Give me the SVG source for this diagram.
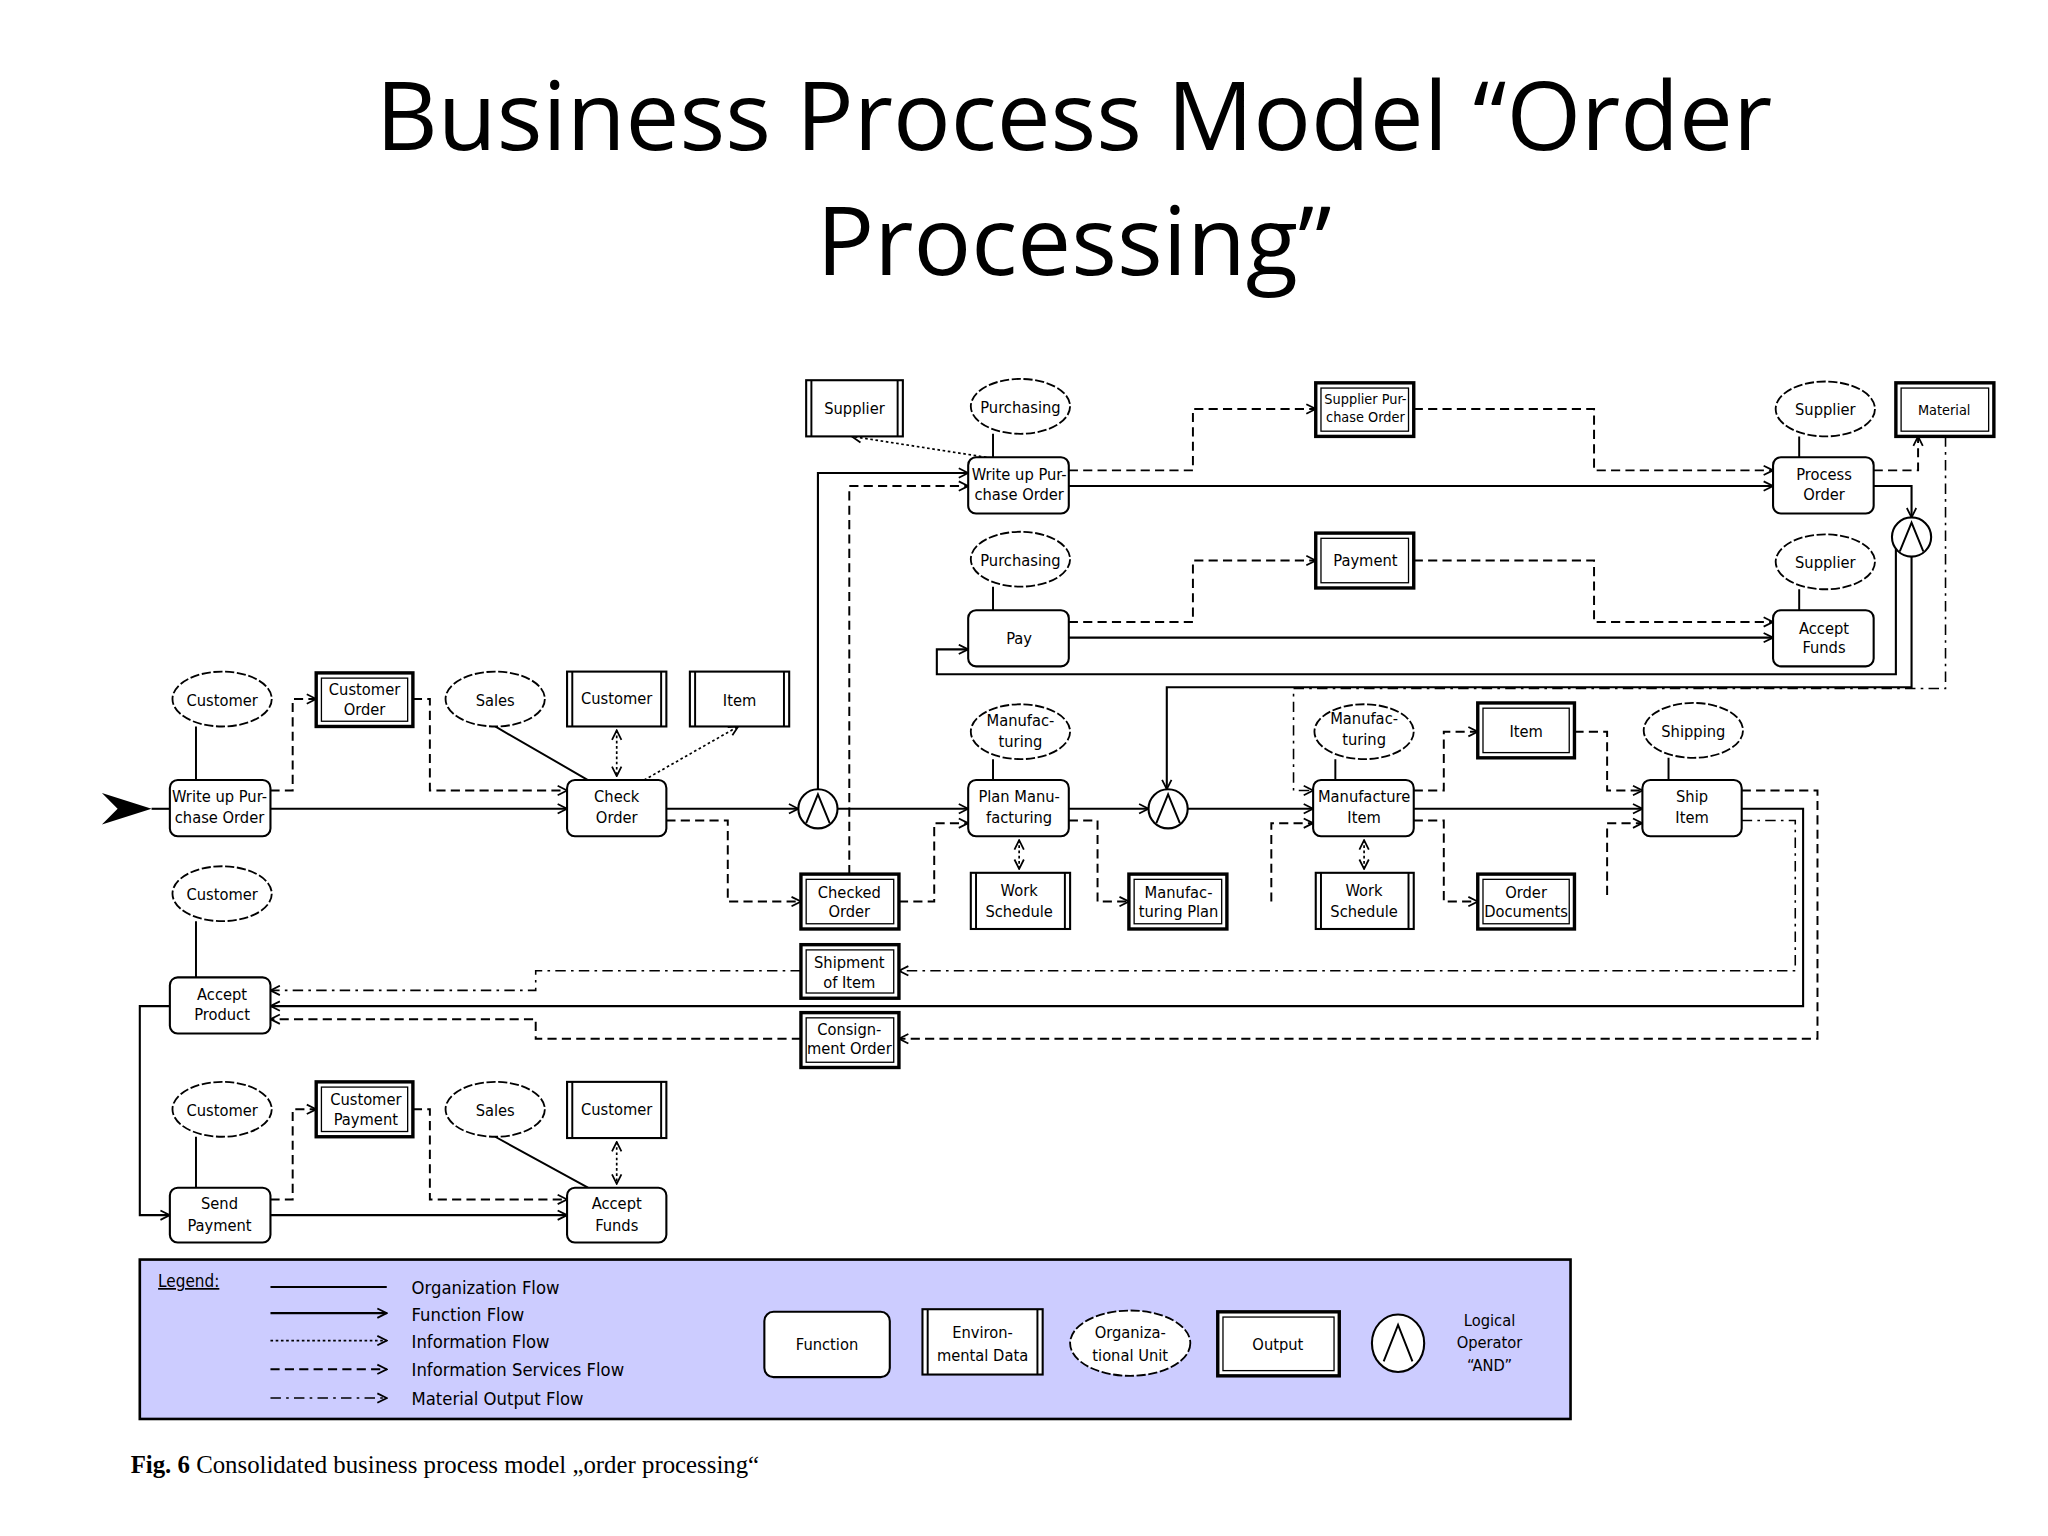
<svg xmlns="http://www.w3.org/2000/svg" width="2048" height="1536" viewBox="0 0 2048 1536">
<style>
.t{font-family:"DejaVu Sans Condensed","Liberation Sans Narrow","Liberation Sans",sans-serif;font-size:12.5px;text-anchor:middle;fill:#000}
.fn{fill:#fff;stroke:#000;stroke-width:1.6}
.ou{fill:#fff;stroke:#000;stroke-width:1.4;stroke-dasharray:7 2}
.ev{fill:#fff;stroke:#000;stroke-width:1.6}
.op{fill:#fff;stroke:#000;stroke-width:2.6}
.oi{fill:none;stroke:#000;stroke-width:1}
.l{fill:none;stroke:#000;stroke-width:1.5}
.s{fill:none;stroke:#000;stroke-width:1.6}
.fa{fill:none;stroke:#000;stroke-width:1.6;marker-end:url(#a)}
.da{fill:none;stroke:#000;stroke-width:1.5;stroke-dasharray:7 4;marker-end:url(#a)}
.dd{fill:none;stroke:#000;stroke-width:1.2;stroke-dasharray:8 4 2 4;marker-end:url(#a)}
.do{fill:none;stroke:#000;stroke-width:1.3;stroke-dasharray:2 2;marker-end:url(#a)}
.db{fill:none;stroke:#000;stroke-width:1.3;stroke-dasharray:2 2;marker-end:url(#a);marker-start:url(#b)}
</style>
<defs>
<marker id="a" viewBox="0 0 10 10" refX="9" refY="5" markerWidth="9" markerHeight="9" markerUnits="userSpaceOnUse" orient="auto"><path d="M1,1 L9,5 L1,9" fill="none" stroke="#000" stroke-width="1.5"/></marker>
<marker id="b" viewBox="0 0 10 10" refX="1" refY="5" markerWidth="9" markerHeight="9" markerUnits="userSpaceOnUse" orient="auto"><path d="M9,1 L1,5 L9,9" fill="none" stroke="#000" stroke-width="1.5"/></marker>
</defs>
<rect width="2048" height="1536" fill="#fff"/>
<g id="title" font-family="'Open Sans','DejaVu Sans',sans-serif" font-size="96" text-anchor="middle" fill="#000">
<text x="1074" y="150">Business Process Model “Order</text>
<text x="1074" y="275">Processing”</text>
</g>
<g transform="scale(1.3066)">
<g id="connectors">
<path class="l" d="M150,556V597 M379,556L450,597 M760,332V350 M760,449V467 M760,581V597 M1022,581V597 M1277,580V597 M1377,334V350 M1377,451V467 M150,705V748 M150,870V909 M379,870L450,909"/>
<path d="M116,619 L78,607 L90,619 L78,631Z" fill="#000"/>
<path class="s" d="M116,619H130"/>
<path class="fa" d="M207,619H434"/>
<path class="fa" d="M510,619H611"/>
<path class="fa" d="M641,619H741"/>
<path class="fa" d="M626,604V362H741"/>
<path class="fa" d="M818,372H1357"/>
<path class="fa" d="M818,488H1357"/>
<path class="fa" d="M818,619H879"/>
<path class="fa" d="M909,619H1005"/>
<path class="fa" d="M1082,619H1257"/>
<path class="fa" d="M1434,372H1463V396"/>
<path class="fa" d="M1451,420V516H717V497H741"/>
<path class="fa" d="M1463,426V526H893V604"/>
<path class="fa" d="M1333,619H1380V770H207"/>
<path class="fa" d="M130,770H107V930H130"/>
<path class="fa" d="M207,930H434"/>
<path class="da" d="M207,605H224V535H242"/>
<path class="da" d="M316,535H329V605H434"/>
<path class="da" d="M510,628H557V690H613"/>
<path class="da" d="M688,690H715V630H741"/>
<path class="da" d="M650,669V372H741"/>
<path class="da" d="M818,360H913V313H1007"/>
<path class="da" d="M1082,313H1220V360H1357"/>
<path class="da" d="M818,476H913V429H1007"/>
<path class="da" d="M1082,429H1220V476H1357"/>
<path class="da" d="M818,628H840V690H864"/>
<path class="da" d="M973,690V630H1005"/>
<path class="da" d="M1082,605H1105V560H1131"/>
<path class="da" d="M1205,560H1230V605H1257"/>
<path class="da" d="M1082,628H1105V690H1131"/>
<path class="da" d="M1230,685V630H1257"/>
<path class="da" d="M1333,605H1391V795H688"/>
<path class="da" d="M613,795H410V780H207"/>
<path class="da" d="M1434,360H1468V334"/>
<path class="da" d="M207,918H224V849H242"/>
<path class="da" d="M316,849H329V918H434"/>
<path class="dd" d="M1333,628H1374V743H688"/>
<path class="dd" d="M613,743H410V758H207"/>
<path class="dd" d="M1489,334V527H990V605H1005"/>
<path class="db" d="M472,559V594"/>
<path class="do" d="M493,597L565,556"/>
<path class="do" d="M755,350L652,334"/>
<path class="db" d="M780,643V665"/>
<path class="db" d="M1044,643V665"/>
<path class="db" d="M472,874V906"/>
</g>
<g id="f1"><rect class="fn" x="130" y="597" width="77" height="43" rx="6"/><text class="t" x="168" y="614">Write up Pur-</text><text class="t" x="168" y="630">chase Order</text></g>
<g id="f2"><rect class="fn" x="434" y="597" width="76" height="43" rx="6"/><text class="t" x="472" y="614">Check</text><text class="t" x="472" y="630">Order</text></g>
<g id="f3"><rect class="fn" x="741" y="350" width="77" height="43" rx="6"/><text class="t" x="780" y="367">Write up Pur-</text><text class="t" x="780" y="383">chase Order</text></g>
<g id="f4"><rect class="fn" x="741" y="467" width="77" height="43" rx="6"/><text class="t" x="780" y="493">Pay</text></g>
<g id="f5"><rect class="fn" x="741" y="597" width="77" height="43" rx="6"/><text class="t" x="780" y="614">Plan Manu-</text><text class="t" x="780" y="630">facturing</text></g>
<g id="f6"><rect class="fn" x="1005" y="597" width="77" height="43" rx="6"/><text class="t" x="1044" y="614">Manufacture</text><text class="t" x="1044" y="630">Item</text></g>
<g id="f7"><rect class="fn" x="1257" y="597" width="76" height="43" rx="6"/><text class="t" x="1295" y="614">Ship</text><text class="t" x="1295" y="630">Item</text></g>
<g id="f8"><rect class="fn" x="1357" y="350" width="77" height="43" rx="6"/><text class="t" x="1396" y="367">Process</text><text class="t" x="1396" y="383">Order</text></g>
<g id="f9"><rect class="fn" x="1357" y="467" width="77" height="43" rx="6"/><text class="t" x="1396" y="485">Accept</text><text class="t" x="1396" y="500">Funds</text></g>
<g id="f10"><rect class="fn" x="130" y="748" width="77" height="43" rx="6"/><text class="t" x="170" y="765">Accept</text><text class="t" x="170" y="781">Product</text></g>
<g id="f11"><rect class="fn" x="130" y="909" width="77" height="42" rx="6"/><text class="t" x="168" y="925">Send</text><text class="t" x="168" y="942">Payment</text></g>
<g id="f12"><rect class="fn" x="434" y="909" width="76" height="42" rx="6"/><text class="t" x="472" y="925">Accept</text><text class="t" x="472" y="942">Funds</text></g>
<g id="o1"><ellipse class="ou" cx="170" cy="535" rx="38" ry="21"/><text class="t" x="170" y="540">Customer</text></g>
<g id="o2"><ellipse class="ou" cx="379" cy="535" rx="38" ry="21"/><text class="t" x="379" y="540">Sales</text></g>
<g id="o3"><ellipse class="ou" cx="781" cy="311" rx="38" ry="21"/><text class="t" x="781" y="316">Purchasing</text></g>
<g id="o4"><ellipse class="ou" cx="781" cy="428" rx="38" ry="21"/><text class="t" x="781" y="433">Purchasing</text></g>
<g id="o5"><ellipse class="ou" cx="781" cy="560" rx="38" ry="21"/><text class="t" x="781" y="556">Manufac-</text><text class="t" x="781" y="572">turing</text></g>
<g id="o6"><ellipse class="ou" cx="1044" cy="560" rx="38" ry="21"/><text class="t" x="1044" y="554">Manufac-</text><text class="t" x="1044" y="570">turing</text></g>
<g id="o7"><ellipse class="ou" cx="1296" cy="559" rx="38" ry="21"/><text class="t" x="1296" y="564">Shipping</text></g>
<g id="o8"><ellipse class="ou" cx="1397" cy="313" rx="38" ry="21"/><text class="t" x="1397" y="318">Supplier</text></g>
<g id="o9"><ellipse class="ou" cx="1397" cy="430" rx="38" ry="21"/><text class="t" x="1397" y="435">Supplier</text></g>
<g id="o10"><ellipse class="ou" cx="170" cy="684" rx="38" ry="21"/><text class="t" x="170" y="689">Customer</text></g>
<g id="o11"><ellipse class="ou" cx="170" cy="849" rx="38" ry="21"/><text class="t" x="170" y="854">Customer</text></g>
<g id="o12"><ellipse class="ou" cx="379" cy="849" rx="38" ry="21"/><text class="t" x="379" y="854">Sales</text></g>
<g id="e1"><rect class="ev" x="617" y="291" width="74" height="43"/><path class="l" d="M621,291V334M687,291V334"/><text class="t" x="654" y="317">Supplier</text></g>
<g id="e2"><rect class="ev" x="434" y="514" width="76" height="42"/><path class="l" d="M438,514V556M506,514V556"/><text class="t" x="472" y="539">Customer</text></g>
<g id="e3"><rect class="ev" x="528" y="514" width="76" height="42"/><path class="l" d="M532,514V556M600,514V556"/><text class="t" x="566" y="540">Item</text></g>
<g id="e4"><rect class="ev" x="743" y="668" width="76" height="43"/><path class="l" d="M747,668V711M815,668V711"/><text class="t" x="780" y="686">Work</text><text class="t" x="780" y="702">Schedule</text></g>
<g id="e5"><rect class="ev" x="1007" y="668" width="75" height="43"/><path class="l" d="M1011,668V711M1078,668V711"/><text class="t" x="1044" y="686">Work</text><text class="t" x="1044" y="702">Schedule</text></g>
<g id="e6"><rect class="ev" x="434" y="828" width="76" height="43"/><path class="l" d="M438,828V871M506,828V871"/><text class="t" x="472" y="853">Customer</text></g>
<g id="p1"><rect class="op" x="242" y="515" width="74" height="41"/><rect class="oi" x="246" y="519" width="66" height="33"/><text class="t" x="279" y="532">Customer</text><text class="t" x="279" y="547">Order</text></g>
<g id="p2"><rect class="op" x="1007" y="293" width="75" height="41"/><rect class="oi" x="1011" y="297" width="67" height="33"/><text class="t" x="1045" y="309" style="font-size:11px">Supplier Pur-</text><text class="t" x="1045" y="323" style="font-size:11px">chase Order</text></g>
<g id="p3"><rect class="op" x="1007" y="408" width="75" height="42"/><rect class="oi" x="1011" y="412" width="67" height="34"/><text class="t" x="1045" y="433">Payment</text></g>
<g id="p4"><rect class="op" x="1451" y="293" width="75" height="41"/><rect class="oi" x="1455" y="297" width="67" height="33"/><text class="t" x="1488" y="318" style="font-size:11px">Material</text></g>
<g id="p5"><rect class="op" x="1131" y="538" width="74" height="42"/><rect class="oi" x="1135" y="542" width="66" height="34"/><text class="t" x="1168" y="564">Item</text></g>
<g id="p6"><rect class="op" x="613" y="669" width="75" height="42"/><rect class="oi" x="617" y="673" width="67" height="34"/><text class="t" x="650" y="687">Checked</text><text class="t" x="650" y="702">Order</text></g>
<g id="p7"><rect class="op" x="864" y="669" width="75" height="42"/><rect class="oi" x="868" y="673" width="67" height="34"/><text class="t" x="902" y="687">Manufac-</text><text class="t" x="902" y="702">turing Plan</text></g>
<g id="p8"><rect class="op" x="1131" y="669" width="74" height="42"/><rect class="oi" x="1135" y="673" width="66" height="34"/><text class="t" x="1168" y="687">Order</text><text class="t" x="1168" y="702">Documents</text></g>
<g id="p9"><rect class="op" x="613" y="723" width="75" height="41"/><rect class="oi" x="617" y="727" width="67" height="33"/><text class="t" x="650" y="741">Shipment</text><text class="t" x="650" y="756">of Item</text></g>
<g id="p10"><rect class="op" x="613" y="775" width="75" height="42"/><rect class="oi" x="617" y="779" width="67" height="34"/><text class="t" x="650" y="792">Consign-</text><text class="t" x="650" y="807">ment Order</text></g>
<g id="p11"><rect class="op" x="242" y="828" width="74" height="42"/><rect class="oi" x="246" y="832" width="66" height="34"/><text class="t" x="280" y="846">Customer</text><text class="t" x="280" y="861">Payment</text></g>
<g id="and1"><ellipse class="fn" cx="626" cy="619" rx="15" ry="15"/><path class="l" d="M617,630L626,608L635,630"/></g>
<g id="and2"><ellipse class="fn" cx="894" cy="619" rx="15" ry="15"/><path class="l" d="M885,630L894,608L903,630"/></g>
<g id="and3"><ellipse class="fn" cx="1463" cy="411" rx="15" ry="15"/><path class="l" d="M1454,422L1463,400L1472,422"/></g>
<g id="legend">
<rect x="107" y="964" width="1095" height="122" fill="#ccccff" stroke="#000" stroke-width="2"/>
<text x="121" y="985" style="font-family:'DejaVu Sans Condensed','Liberation Sans',sans-serif;font-size:13px;text-decoration:underline">Legend:</text>
<path class="s" d="M207,985H296"/>
<path class="fa" d="M207,1005H296"/>
<path class="do" d="M207,1026H296"/>
<path class="da" d="M207,1048H296"/>
<path class="dd" d="M207,1070H296"/>
<g style="font-family:'DejaVu Sans Condensed','Liberation Sans',sans-serif;font-size:14px">
<text x="315" y="990">Organization Flow</text>
<text x="315" y="1011">Function Flow</text>
<text x="315" y="1032">Information Flow</text>
<text x="315" y="1053">Information Services Flow</text>
<text x="315" y="1075">Material Output Flow</text>
</g>
<rect class="fn" x="585" y="1004" width="96" height="50" rx="7"/><text class="t" x="633" y="1033">Function</text>
<rect class="ev" x="706" y="1002" width="92" height="50"/><path class="l" d="M710,1002V1052M794,1002V1052"/><text class="t" x="752" y="1024">Environ-</text><text class="t" x="752" y="1042">mental Data</text>
<ellipse class="ou" cx="865" cy="1028" rx="46" ry="25"/><text class="t" x="865" y="1024">Organiza-</text><text class="t" x="865" y="1042">tional Unit</text>
<rect class="op" x="932" y="1004" width="93" height="49"/><rect class="oi" x="936" y="1008" width="85" height="41"/><text class="t" x="978" y="1033">Output</text>
<ellipse class="fn" cx="1070" cy="1028" rx="20" ry="22"/><path class="l" d="M1059,1042L1070,1014L1081,1042"/>
<text class="t" x="1140" y="1015">Logical</text><text class="t" x="1140" y="1032">Operator</text><text class="t" x="1140" y="1049">“AND”</text>
</g>
<g id="caption" style="font-family:'Liberation Serif',serif;font-size:19px">
<text x="100" y="1127"><tspan font-weight="bold">Fig. 6</tspan> Consolidated business process model „order processing“</text>
</g>
</g>
</svg>
